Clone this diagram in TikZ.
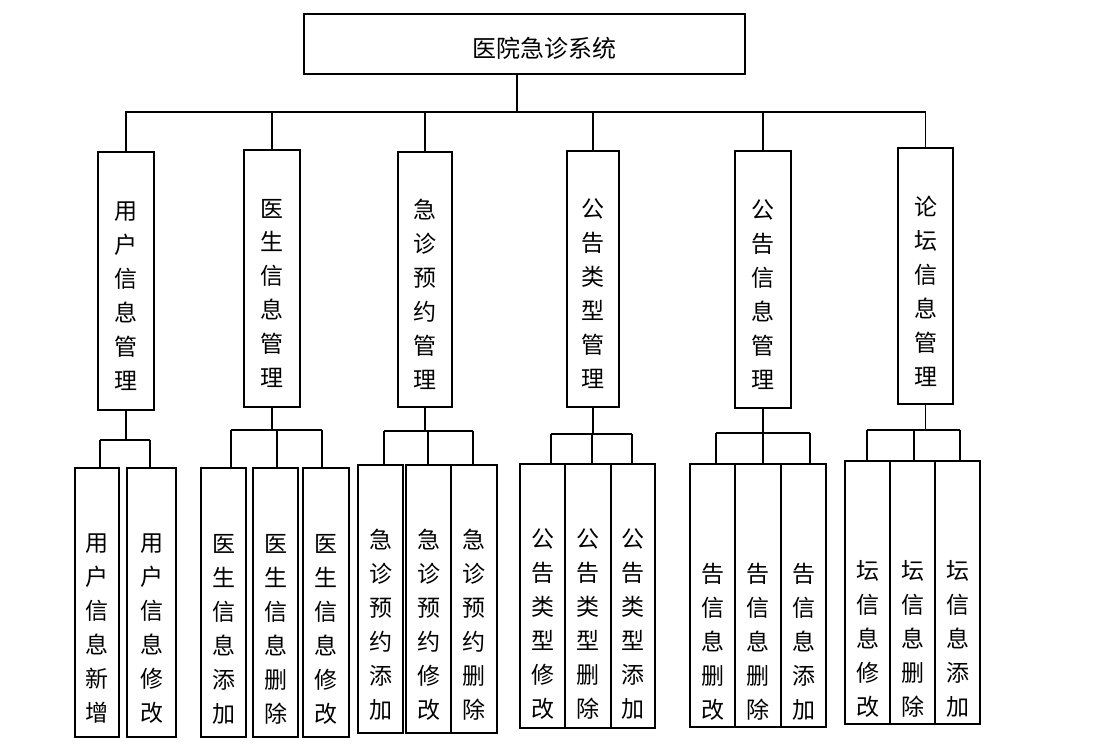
\documentclass[tikz,border=0pt]{standalone}
\usepackage{fontspec}
\newfontfamily\cjk{Noto Sans CJK SC}
\begin{document}
\begin{tikzpicture}[x=1pt,y=-1pt,line width=1.3pt,
  bx/.style={draw,line width=1.3pt,inner sep=0pt},
  vt/.style={font=\cjk\fontsize{23}{34}\selectfont,align=center,inner sep=0pt}]
\useasboundingbox (0,0) rectangle (1093,746);
\node[bx,minimum width=441pt,minimum height=60pt] (top) at (524.5,44) {};
\node[font=\cjk\fontsize{24}{28}\selectfont] (tt) at (544,48) {医院急诊系统};
% mid boxes
\foreach \n/\a/\b/\c/\d/\t in {
 m1/98/154/152/410/用\\户\\信\\息\\管\\理,
 m2/244/300/150/407/医\\生\\信\\息\\管\\理,
 m3/398/452/152/407/急\\诊\\预\\约\\管\\理,
 m4/567/619/151/407/公\\告\\类\\型\\管\\理,
 m5/735/791/151/408/公\\告\\信\\息\\管\\理,
 m6/898/953/148/404/论\\坛\\信\\息\\管\\理}{
 \draw (\a,\c) rectangle (\b,\d);
 \node[inner sep=0pt,minimum width={\b-\a},minimum height={\d-\c}] (\n) at ({(\a+\b)/2},{(\c+\d)/2}) {};
 \node[vt] (\n t) at ({(\a+\b)/2},{(\c+\d)/2+15}) {\t};
}
\coordinate (bus) at (517,112);
\draw (top.south -| bus) -- (bus);
\draw (m1.north) |- (bus) -| (m6.north);
\foreach \n in {m2,m3,m4,m5} \draw (bus -| \n.north) -- (\n.north);
% bottom boxes
\foreach \n/\a/\b/\c/\d/\ty/\t in {
 b11/75/119/468/737/629/用\\户\\信\\息\\新\\增,
 b12/127/176/468/737/629/用\\户\\信\\息\\修\\改,
 b21/201/246/468/737/629/医\\生\\信\\息\\添\\加,
 b22/253/298/468/737/629/医\\生\\信\\息\\删\\除,
 b23/303/349/468/737/629/医\\生\\信\\息\\修\\改,
 b31/358/403/465/733/625/急\\诊\\预\\约\\添\\加,
 b32/406/451/465/733/625/急\\诊\\预\\约\\修\\改,
 b33/451/497/465/733/625/急\\诊\\预\\约\\删\\除,
 b41/520/565/464/728/624/公\\告\\类\\型\\修\\改,
 b42/565/611/464/728/624/公\\告\\类\\型\\删\\除,
 b43/611/655/464/728/624/公\\告\\类\\型\\添\\加,
 b51/690/735/464/727/642/告\\信\\息\\删\\改,
 b52/735/781/464/727/642/告\\信\\息\\删\\除,
 b53/781/826/464/727/642/告\\信\\息\\添\\加,
 b61/845/890/461/724/639/坛\\信\\息\\修\\改,
 b62/890/935/461/724/639/坛\\信\\息\\删\\除,
 b63/935/980/461/724/639/坛\\信\\息\\添\\加}{
 \draw (\a,\c) rectangle (\b,\d);
 \node[inner sep=0pt,minimum width={\b-\a},minimum height={\d-\c}] (\n) at ({(\a+\b)/2},{(\c+\d)/2}) {};
 \node[vt] (\n t) at ({(\a+\b)/2},\ty) {\t};
}
% group connectors
\coordinate (g1) at (126,440); \draw (m1.south -| g1) -- (g1);
\draw (100,440) -- (150,440);
\draw (100,440) -- (100,468); \draw (150,440) -- (150,468);
\foreach \m/\y/\l/\r/\cs/\bt in {m2/430/231/322/{231,277,322}/468, m3/431/384/473/{384,428,473}/465, m4/434/551/632/{551,592,632}/464, m5/433/716/810/{716,763,810}/464, m6/430/867/960/{867,914,960}/461}{
 \draw (\m.south) -- (\m.south |- 0,\y);
 \draw (\l,\y) -- (\r,\y);
 \foreach \x in \cs \draw (\x,\y) -- (\x,\bt);
}
\end{tikzpicture}
\end{document}
